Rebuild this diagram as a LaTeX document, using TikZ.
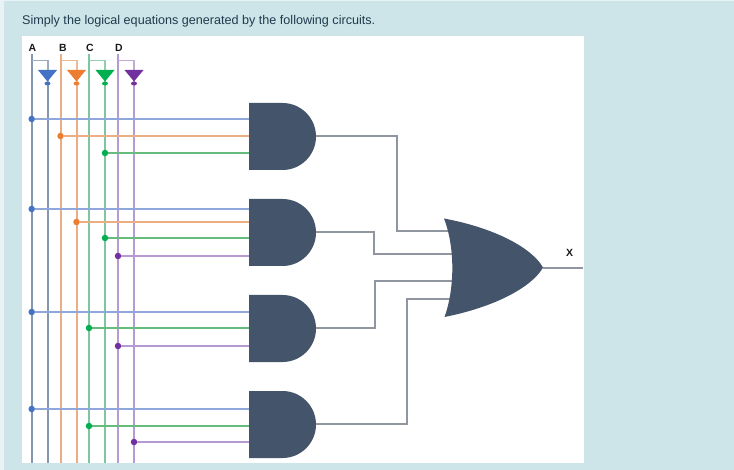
\documentclass[tikz,border=0pt]{standalone}
\usepackage{fontspec}
\setmainfont{Liberation Sans}
\definecolor{bgc}{HTML}{CDE5E9}
\definecolor{edgec}{HTML}{E9F3F5}
\definecolor{gatec}{HTML}{44546A}
\definecolor{wirec}{HTML}{8F969F}
\definecolor{textc}{HTML}{1F3B4D}
\definecolor{bluD}{HTML}{4472C4}\definecolor{bluV}{HTML}{8497B0}\definecolor{bluH}{HTML}{8FA7DA}
\definecolor{oraD}{HTML}{ED7D31}\definecolor{oraL}{HTML}{EBAE84}
\definecolor{greD}{HTML}{00B050}\definecolor{greL}{HTML}{7CC6A0}\definecolor{greH}{HTML}{66BC7C}
\definecolor{purD}{HTML}{7030A0}\definecolor{purL}{HTML}{B89AD2}
\tikzset{
  vwire/.style={line width=2bp},
  hwire/.style={line width=2bp},
  feedwire/.style={line width=1.9bp},
  outwire/.style={wirec,line width=2.1bp},
  dotn/.style={circle,inner sep=0pt,minimum size=6.5bp},
  lab/.style={font=\fontsize{10.5}{12}\selectfont\bfseries,text=black!90,inner sep=0pt},
  gatefill/.style={fill=gatec,draw=none},
}
\newcommand{\invgate}[2]{% x, fill
  \fill[#2] (#1-9.5,70) -- (#1+9.5,70) -- (#1,81.5) -- cycle;
  \fill[#2] (#1,83.5) ellipse (3 and 2);
}
\newcommand{\andgate}[2]{% center y, name
  \fill[gatefill] (249,#1-33.5) -- (282.5,#1-33.5) arc[start angle=-90,end angle=90,radius=33.5] -- (249,#1+33.5) -- cycle;
  \coordinate (#2out) at (316,#1-0.5);
}
\begin{document}
\begin{tikzpicture}[x=1bp,y=-1bp]
\useasboundingbox (0,0) rectangle (734,470);
\fill[bgc] (0,0) rectangle (734,470);
\fill[edgec] (0,0) rectangle (734,1.5);
\fill[edgec] (0,0) rectangle (3.5,470);
\fill[white] (22,36) rectangle (584,463);
\node[anchor=west,inner sep=0pt,text=textc,font=\fontsize{12.65}{15}\selectfont] (title) at (22,21) {Simply the logical equations generated by the following circuits.};
\node[lab] (lA) at (32.5,48) {A};
\node[lab] (lB) at (63,48) {B};
\node[lab] (lC) at (90,48) {C};
\node[lab] (lD) at (119,48) {D};
\node[lab] (lX) at (569.5,252.5) {X};
% named rail ends
\foreach \n/\x in {A/32,Ab/48,B/61,Bb/77,C/89,Cb/105,D/118,Db/134}{
  \coordinate (\n bot) at (\x,463);
}
\coordinate (Atop) at (32,54); \coordinate (Btop) at (61,54);
\coordinate (Ctop) at (89,54);   \coordinate (Dtop) at (118,54);
\coordinate (Afd) at (32,60.5); \coordinate (Bfd) at (61,60.5);
\coordinate (Cfd) at (89,60.5); \coordinate (Dfd) at (118,60.5);
\coordinate (Abo) at (48,84); \coordinate (Bbo) at (77,84); \coordinate (Cbo) at (105,84); \coordinate (Dbo) at (134,84);
% rails
\draw[vwire,bluV] (Atop) -- (Abot);
\draw[vwire,oraL] (Btop) -- (Bbot);
\draw[vwire,greL] (Ctop) -- (Cbot);
\draw[vwire,purL] (Dtop) -- (Dbot);
\draw[vwire,bluV] (Abo) -- (Abbot);
\draw[vwire,oraL] (Bbo) -- (Bbbot);
\draw[vwire,greL] (Cbo) -- (Cbbot);
\draw[vwire,purL] (Dbo) -- (Dbbot);
% inverter feeds
\draw[feedwire,bluV!80!white] (Afd) -| (Abo);
\draw[feedwire,oraL!85!white] (Bfd) -| (Bbo);
\draw[feedwire,greL!85!white] (Cfd) -| (Cbo);
\draw[feedwire,purL!85!white] (Dfd) -| (Dbo);
% inverter bodies over the feeds
\invgate{47.5}{bluD}
\invgate{76.5}{oraD}
\invgate{105}{greD}
\invgate{134}{purD}
% input junctions
\foreach \n/\x/\y/\c in {
  a/31.7/119/bluD, b/60.5/136/oraD, c/105/153/greD,
  d/31.7/209/bluD, e/76.5/222/oraD, f/105/238/greD, g/118/256/purD,
  h/31.7/312/bluD, i/89/328/greD, j/118/346/purD,
  k/31.7/409/bluD, l/89/426/greD, m/134/442/purD}{
  \node[dotn,fill=\c] (\n) at (\x,\y) {};
}
% gate inputs
\foreach \n/\y in {a/119,b/136,c/153,d/209,e/222,f/238,g/256,h/312,i/328,j/346,k/409,l/426,m/442}{
  \coordinate (\n in) at (250,\y);
}
\foreach \n/\c in {a/bluH,d/bluH,h/bluH,k/bluH,b/oraL,e/oraL,c/greH,f/greH,i/greH,l/greH,g/purL,j/purL,m/purL}{
  \draw[hwire,\c] (\n) -- (\n in);
}
% gates
\andgate{136.5}{g1}
\andgate{232.5}{g2}
\andgate{328.5}{g3}
\andgate{424.5}{g4}
% or inputs and output
\coordinate (or1) at (450,231);
\coordinate (or2) at (455,254);
\coordinate (or3) at (455,281);
\coordinate (or4) at (450,299);
\coordinate (orout) at (543,268);
\coordinate (xend) at (583,268);
\draw[outwire] (g1out) -- (397,136) -- (397,231) -- (or1);
\draw[outwire] (g2out) -- (374,232) -- (374,254) -- (or2);
\draw[outwire] (g3out) -- (375,328) -- (375,281) -- (or3);
\draw[outwire] (g4out) -- (407,424) -- (407,299) -- (or4);
\draw[outwire] (orout) -- (xend);
\fill[gatefill] (444,218.5) .. controls (495,228) and (532,248) .. (543,267.5)
  .. controls (532,287) and (495,307) .. (444.5,317)
  .. controls (455,288) and (455,247) .. (444,218.5) -- cycle;
\end{tikzpicture}
\end{document}
